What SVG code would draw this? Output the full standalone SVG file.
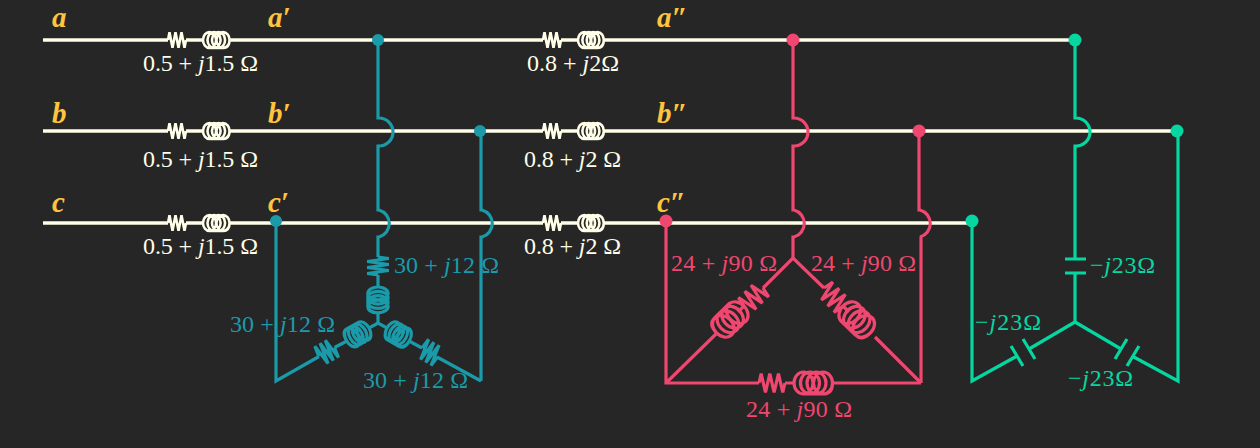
<svg xmlns="http://www.w3.org/2000/svg" width="1260" height="448" viewBox="0 0 1260 448">
<style>
.v{vector-effect:non-scaling-stroke}
.bus{stroke:#FFFEE8;fill:none;stroke-width:3.4}
.bus use{stroke-width:2.6}
.teal{stroke:#1B9AAA;fill:none;stroke-width:3.2}.tf{fill:#1B9AAA}
.pink{stroke:#EF476F;fill:none;stroke-width:3.2}.pf{fill:#EF476F}
.grn{stroke:#06D6A0;fill:none;stroke-width:3.2}.gf{fill:#06D6A0}
.cr{fill:#FFFEE8}
text{font-family:"Liberation Serif","Times New Roman",serif;font-size:24px}
.n{font-weight:bold;font-style:italic;font-size:29px;fill:#FFC43D}
.j{font-style:italic}
</style>
<defs>
<path id="res" class="v" d="M0 0L2 -9L6 9L10 -9L14 9L18 -9L22 9L24 0"/>
<path id="ind" class="v" d="M0 0A9.500 11 0 1 1 19 0A9.500 11 0 1 1 0 0M6.500 0A9.500 11 0 1 1 25.500 0A9.500 11 0 1 1 6.500 0M13 0A9.500 11 0 1 1 32 0A9.500 11 0 1 1 13 0M19.500 0A9.500 11 0 1 1 38.500 0A9.500 11 0 1 1 19.500 0M8 11H29Q38.500 11 38.500 0"/>
</defs>
<rect width="1260" height="448" fill="#262626"/>
<g id="connectors">
<g class="bus">
<path d="M43 40H168M186 40H203M230 40H543M561 40H578M604 40H1075"/>
<path d="M43 131H168M186 131H203M230 131H543M561 131H578M604 131H1177"/>
<path d="M43 223H168M186 223H203M230 223H543M561 223H578M604 223H972"/>
</g>
<g class="teal">
<path d="M378 40V118H379A14 14 0 0 1 379 146H378V210H379A14 14 0 0 1 379 237H378V257M378 275V287M378 313V323"/>
<path d="M481 131V210H482A14 14 0 0 1 482 237H481V381"/>
<path d="M276 221V381L319 356.500M334.500 347.500L347 341M369 328L378 323L387 328M409 341L422 348M437 357L481 381"/>
</g>
<g class="pink">
<path d="M793 40V118H794A14 14 0 0 1 794 146H793V210H794A14 14 0 0 1 794 237H793V258"/>
<path d="M919 131V210H920A14 14 0 0 1 920 237H921V383"/>
<path d="M666 221V383H759M785 383H794M832 383H921"/>
<path d="M666 383L716 334M738 312L744 306M763 288L793 258L824 288M843 306L849 312M875 337L921 383"/>
</g>
<g class="grn">
<path d="M1075 40V118H1076A14 14 0 0 1 1076 146H1075V259M1065 259H1086M1065 273H1086M1075 273V322L1029 349M1023 339L1035 359M1011 346L1023 366M1017 356L972 381V221"/>
<path d="M1075 322L1121 349M1127 339L1115 359M1139 346L1127 366M1132 356L1178 381V131"/>
</g>
</g>
<g id="line-a">
<g class="bus">
<use href="#res" transform="translate(168 40) scale(.75 .85)"/><use href="#ind" transform="translate(203 40) scale(.69 .72)"/>
<use href="#res" transform="translate(543 40) scale(.75 .85)"/><use href="#ind" transform="translate(578 40) scale(.67 .72)"/>
</g>
</g>
<g id="line-b">
<g class="bus">
<use href="#res" transform="translate(168 131) scale(.75 .85)"/><use href="#ind" transform="translate(203 131) scale(.69 .72)"/>
<use href="#res" transform="translate(543 131) scale(.75 .85)"/><use href="#ind" transform="translate(578 131) scale(.67 .72)"/>
</g>
</g>
<g id="line-c">
<g class="bus">
<use href="#res" transform="translate(168 223) scale(.75 .85)"/><use href="#ind" transform="translate(203 223) scale(.69 .72)"/>
<use href="#res" transform="translate(543 223) scale(.75 .85)"/><use href="#ind" transform="translate(578 223) scale(.67 .72)"/>
</g>
</g>
<g id="wye-teal" class="teal">
<use href="#res" transform="translate(378 257) rotate(90) scale(.75 1.2)"/>
<use href="#ind" transform="translate(378 287) rotate(90) scale(.67 .92)"/>
<use href="#ind" transform="translate(369 328) rotate(150.500) scale(.67 .92)"/>
<use href="#res" transform="translate(334.500 347.500) rotate(150.500) scale(.75 1.2)"/>
<use href="#ind" transform="translate(387 328) rotate(29.500) scale(.67 .92)"/>
<use href="#res" transform="translate(422 348) rotate(29.500) scale(.75 1.2)"/>
</g>
<g id="delta-pink" class="pink">
<use href="#res" transform="translate(763 288) rotate(135.500) scale(1.1 1.15)"/>
<use href="#ind" transform="translate(744 306) rotate(135.500) scale(1 1.1)"/>
<use href="#res" transform="translate(824 288) rotate(44.500) scale(1.1 1.15)"/>
<use href="#ind" transform="translate(843 306) rotate(44.500) scale(1 1.1)"/>
<use href="#res" transform="translate(759 383) scale(1.08 1.05)"/>
<use href="#ind" transform="translate(794 383)"/>
</g>
<g id="dots">
<circle class="tf" cx="378" cy="40" r="6"/><circle class="tf" cx="480" cy="131" r="6"/><circle class="tf" cx="276" cy="221" r="6"/>
<circle class="pf" cx="793" cy="40" r="6.500"/><circle class="pf" cx="919" cy="131" r="6.500"/><circle class="pf" cx="666" cy="221" r="6.500"/>
<circle class="gf" cx="1075" cy="40" r="6.500"/><circle class="gf" cx="1177" cy="131" r="6.500"/><circle class="gf" cx="972" cy="221" r="6.500"/>
</g>
<g id="names">
<text class="n" x="52" y="27">a</text><text class="n" x="268" y="27">a′</text><text class="n" x="657" y="27">a″</text>
<text class="n" x="52" y="123">b</text><text class="n" x="268" y="123">b′</text><text class="n" x="657" y="123">b″</text>
<text class="n" x="52" y="212">c</text><text class="n" x="268" y="212">c′</text><text class="n" x="657" y="212">c″</text>
</g>
<g id="labels">
<g class="cr">
<text x="143" y="71" textLength="115">0.5 + <tspan class="j">j</tspan>1.5 Ω</text>
<text x="143" y="167" textLength="115">0.5 + <tspan class="j">j</tspan>1.5 Ω</text>
<text x="143" y="254" textLength="115">0.5 + <tspan class="j">j</tspan>1.5 Ω</text>
<text x="527" y="71" textLength="92">0.8 + <tspan class="j">j</tspan>2Ω</text>
<text x="524" y="167" textLength="97">0.8 + <tspan class="j">j</tspan>2 Ω</text>
<text x="524" y="254" textLength="97">0.8 + <tspan class="j">j</tspan>2 Ω</text>
</g>
<g class="tf">
<text x="394" y="273" textLength="105">30 + <tspan class="j">j</tspan>12 Ω</text>
<text x="230" y="332" textLength="105">30 + <tspan class="j">j</tspan>12 Ω</text>
<text x="363" y="388" textLength="105">30 + <tspan class="j">j</tspan>12 Ω</text>
</g>
<g class="pf">
<text x="671" y="271" textLength="106">24 + <tspan class="j">j</tspan>90 Ω</text>
<text x="811" y="271" textLength="105">24 + <tspan class="j">j</tspan>90 Ω</text>
<text x="746" y="417" textLength="106">24 + <tspan class="j">j</tspan>90 Ω</text>
</g>
<g class="gf">
<text x="1090" y="273" textLength="65">−<tspan class="j">j</tspan>23Ω</text>
<text x="975" y="330" textLength="66">−<tspan class="j">j</tspan>23Ω</text>
<text x="1068" y="386" textLength="65">−<tspan class="j">j</tspan>23Ω</text>
</g>
</g>
</svg>
